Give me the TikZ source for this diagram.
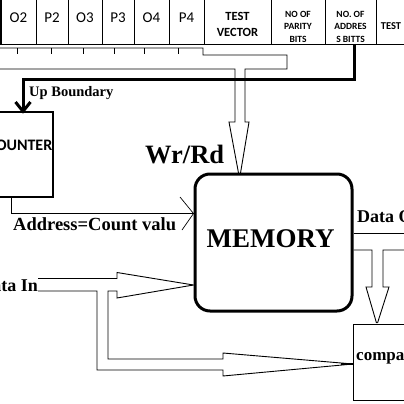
\documentclass[tikz,border=0pt]{standalone}
\usepackage{fontspec}
\setmainfont{Liberation Serif}
\newfontfamily\tblfont{Carlito}
\begin{document}
\begin{tikzpicture}[x=1pt,y=-1pt,
  thinln/.style={line width=0.9pt, line join=miter},
  thickln/.style={line width=3pt, line join=miter},
  lbl/.style={inner sep=0pt, font=\bfseries\fontsize{#1}{#1}\selectfont},
  cell/.style={inner sep=0pt, align=center, font=\tblfont\fontsize{#1}{#1}\selectfont},
  bcell/.style 2 args={inner sep=0pt, align=center, font=\tblfont\bfseries\fontsize{#1}{#2}\selectfont}]
\useasboundingbox (0,0) rectangle (404,404);
% ---- table ----
\draw[thinln] (-5,-1) -- (410,-1);
\draw[thinln] (0,44) -- (410,44);
\foreach \x in {36,68,102,134,169,204,271,325,376} \draw[thinln] (\x,-1) -- (\x,44);
\draw[line width=2.5pt] (0.8,-1) -- (0.8,44);
\node[cell=15] (c1) at (18.5,17.5) {O2};
\node[cell=15] (c2) at (52,17.5) {P2};
\node[cell=15] (c3) at (85,17.5) {O3};
\node[cell=15] (c4) at (118,17.5) {P3};
\node[cell=15] (c5) at (151.5,17.5) {O4};
\node[cell=15] (c6) at (186.5,17.5) {P4};
\node[bcell={12.5}{16}] (c7) at (237.5,24.5) {TEST\\VECTOR};
\node[bcell={9.5}{12.5}] (c8) at (298,26.5) {NO OF\\PARITY\\BITS};
\node[bcell={9.5}{12.5}] (c9) at (350.5,26.5) {NO. OF\\ADDRES\\S BITTS};
\node[bcell={10.5}{12}] (c10) at (391,26) {TEST};
% ---- boxes ----
\node[draw, line width=1.3pt, minimum width=93pt, minimum height=85pt, inner sep=0pt] (counter) at (6.5,154.5) {};
\node[inner sep=0pt, anchor=east, font=\tblfont\bfseries\fontsize{16}{16}\selectfont] (counterlbl) at (52.5,145) {COUNTER};
\node[draw, line width=3pt, rounded corners=15pt, minimum width=157pt, minimum height=137pt, inner sep=0pt] (memory) at (273.5,242.5) {};
\node[lbl=27, anchor=base west] (memlbl) at (206.5,247) {MEMORY};
\node[draw, line width=1pt, minimum width=107pt, minimum height=76pt, inner sep=0pt, anchor=north west] (comp) at (353,324) {};
\node[lbl=17, anchor=base west] (complbl) at (356,360) {comparator};
% ---- labels ----
\node[lbl=14.5, anchor=base west] (ub) at (29,96.5) {Up Boundary};
\node[lbl=26.5, anchor=base west] (wr) at (145,163) {Wr/Rd};
\node[lbl=18.5, anchor=base west] (addr) at (13,230) {Address=Count valu};
\node[lbl=18, anchor=base east] (din) at (38,291) {Data In};
\node[lbl=18, anchor=base west] (dout) at (357,222) {Data Out};
% ---- bit ticks and input bus ----
\foreach \x in {17,51,83,114,144,178} \draw[thinln] (\x,48) -- (\x,54);
\coordinate (memtopL) at (238.5,173);
\coordinate (memtopR) at (240.5,173);
\draw[thinln] (0,48) -- (203,48) -- (203,55) -- (287,55) -- (287,69) -- (245,69) -- (245,122) -- (249,122) -- (memtopR);
\draw[thinln] (0,69) -- (235,69) -- (235,122) -- (229,122) -- (memtopL);
% ---- up boundary ----
\coordinate (ubtip) at (counter.north -| 23,0);
\draw[thickln] (354,44) -- (354,79) -- (23,79) -- (ubtip);
\draw[thickln] (15.5,102) -- (ubtip) -- (30.5,102);
% ---- address ----
\coordinate (addrtip) at (memory.west |- 0,213.5);
\draw[thinln] (counter.south -| 11,0) -- (11,213.5) -- (addrtip);
\draw[line width=0.7pt] (180,197) -- (addrtip) -- (182,230);
% ---- data in ----
\coordinate (dintip) at (memory.west |- 0,285);
\coordinate (comptip) at (comp.west |- 0,364);
\draw[thinln] (din.east |- 0,278.5) -- (117,278.5) -- (117,272.5) -- (dintip);
\draw[thinln] (din.east |- 0,291) -- (97,291) -- (97,370) -- (223,370) -- (223,376) -- (comptip);
\draw[thinln] (dintip) -- (117,298) -- (117,291) -- (108,291) -- (108,359) -- (223,359) -- (223,353) -- (comptip);
\draw[line width=1.6pt] (341,364) -- (comptip);
% ---- data out ----
\coordinate (compL) at (376.5,323);
\coordinate (compR) at (377.5,323);
\draw[thinln] (memory.east |- 0,233) -- (410,233);
\draw[thinln] (memory.east |- 0,250) -- (372,250) -- (372,287) -- (366,287) -- (compL);
\draw[thinln] (410,250) -- (383,250) -- (383,287) -- (389,287) -- (compR);
\end{tikzpicture}
\end{document}
